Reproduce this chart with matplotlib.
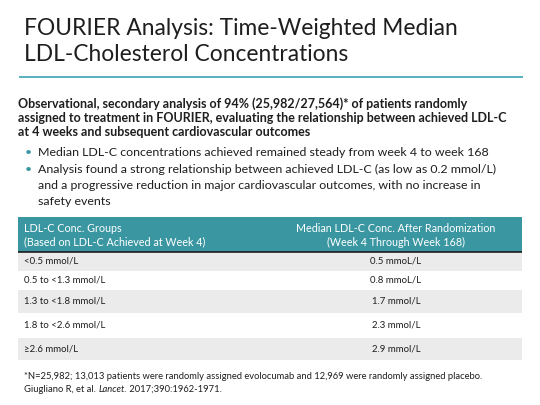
import matplotlib
matplotlib.use("Agg")
import matplotlib.pyplot as plt
from matplotlib.patches import Rectangle

plt.rcParams['font.family'] = ['Lato', 'DejaVu Sans']

title_lines = ["FOURIER Analysis: Time-Weighted Median", "LDL-Cholesterol Concentrations"]
intro_lines = ["Observational, secondary analysis of 94% (25,982/27,564)* of patients randomly",
               "assigned to treatment in FOURIER, evaluating the relationship between achieved LDL-C",
               "at 4 weeks and subsequent cardiovascular outcomes"]
bullets = [["Median LDL-C concentrations achieved remained steady from week 4 to week 168"],
           ["Analysis found a strong relationship between achieved LDL-C (as low as 0.2 mmol/L)",
            "and a progressive reduction in major cardiovascular outcomes, with no increase in",
            "safety events"]]
header_left = ["LDL-C Conc. Groups", "(Based on LDL-C Achieved at Week 4)"]
header_right = ["Median LDL-C Conc. After Randomization", "(Week 4 Through Week 168)"]
groups = ["<0.5 mmol/L", "0.5 to <1.3 mmol/L", "1.3 to <1.8 mmol/L", "1.8 to <2.6 mmol/L", "\u22652.6 mmol/L"]
medians = [0.5, 0.8, 1.7, 2.3, 2.9]
median_units = ["mmoL/L", "mmoL/L", "mmol/L", "mmol/L", "mmol/L"]
footnote1 = "*N=25,982; 13,013 patients were randomly assigned evolocumab and 12,969 were randomly assigned placebo."
footnote2 = ["Giugliano R, et al. ", "Lancet.", " 2017;390:1962-1971."]

TEAL = "#3a97a2"
LINE_TEAL = "#4aaab8"
GRAY = "#ebebeb"
TXT = "#1e1e1e"

fig = plt.figure(figsize=(5.4, 4.05), dpi=100)
ax = fig.add_axes([0, 0, 1, 1])
ax.set_xlim(0, 540)
ax.set_ylim(405, 0)
ax.axis('off')
fig.canvas.draw()
R = fig.canvas.get_renderer()


def width_of(t):
    return t.get_window_extent(R).width


def fit_size(s, target, **kw):
    t = ax.text(0, 0, s, fontsize=10, **kw)
    w = width_of(t)
    t.remove()
    return 10 * target / w


# title
ts = fit_size(title_lines[0], 431)
for s, yb in zip(title_lines, [35, 61]):
    ax.text(24, yb, s, fontsize=ts, color=TXT, va='baseline', ha='left')
ax.plot([19, 523], [77, 77], color=LINE_TEAL, lw=1.3, solid_capstyle='butt')

# intro bold paragraph
bs = fit_size(intro_lines[1], 491, fontweight='bold')
for s, yb in zip(intro_lines, [108, 122, 136]):
    ax.text(18, yb, s, fontsize=bs, fontweight='bold', color=TXT, va='baseline')

# bullets
us = fit_size(bullets[1][0], 459)
ybs = [[156], [173, 189, 205]]
for lines, yl in zip(bullets, ybs):
    ax.text(25, yl[0], "\u2022", fontsize=us, color=TEAL, va='baseline')
    for s, yb in zip(lines, yl):
        ax.text(38, yb, s, fontsize=us, color=TXT, va='baseline')

# table
tx0, tx1 = 18, 522
htop, hbot = 217, 252
row_edges = [252, 271, 289, 313, 337, 360]
ax.add_patch(Rectangle((tx0, htop), tx1 - tx0, hbot - htop, facecolor=TEAL, edgecolor='none'))
ax.plot([tx0, tx1], [hbot, hbot], color="#1a1a1a", lw=1.2, solid_capstyle='butt')
hs = fit_size(header_right[0], 200)
for s, yc in zip(header_left, [229, 242]):
    ax.text(24, yc, s, fontsize=hs, color='white', va='center', ha='left')
for s, yc in zip(header_right, [229, 242]):
    ax.text(396, yc, s, fontsize=hs, color='white', va='center', ha='center')

rs = fit_size(groups[1], 82)
for i, (g, m, u) in enumerate(zip(groups, medians, median_units)):
    y0, y1 = row_edges[i], row_edges[i + 1]
    if i % 2 == 0:
        ax.add_patch(Rectangle((tx0, y0 + 0.6), tx1 - tx0, y1 - y0 - 0.6, facecolor=GRAY, edgecolor='none'))
    yc = (y0 + y1) / 2
    ax.text(24, yc, g, fontsize=rs, color=TXT, va='center', ha='left')
    ax.text(396, yc, f"{m:.1f} {u}", fontsize=rs, color=TXT, va='center', ha='center')

# footnotes
fs = fit_size(footnote1, 458)
ax.text(24, 379, footnote1, fontsize=fs, color=TXT, va='baseline')
x = 24
for k, s in enumerate(footnote2):
    t = ax.text(x, 392, s, fontsize=fs, color=TXT, va='baseline',
                fontstyle='italic' if k == 1 else 'normal')
    bb = t.get_window_extent(R)
    x += bb.width
    if s.endswith(" "):
        pass

fig.savefig("out.png", dpi=100)
